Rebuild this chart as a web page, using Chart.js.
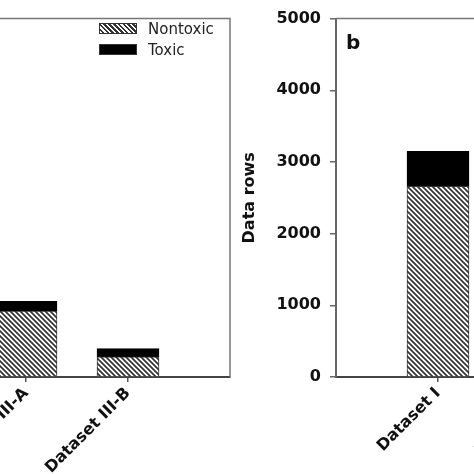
<!DOCTYPE html>
<html>
<head>
<meta charset="utf-8">
<script src="https://cdn.jsdelivr.net/npm/chart.js@4.4.0/dist/chart.umd.min.js"></script>
<style>
  html, body { margin: 0; padding: 0; background: #fff; overflow: hidden; }
  #wrap { position: relative; width: 474px; height: 474px; overflow: hidden; background: #fff; }
  #left { position: absolute; left: -176px; top: 0; }
  #right { position: absolute; left: 236px; top: 0; }
  .legend { position: absolute; left: 99px; top: 18px; font: 15px 'DejaVu Sans'; color: #222; }
  .legend .row { height: 21px; display: flex; align-items: center; }
  .sw { width: 38px; height: 11px; margin-right: 11px; box-sizing: border-box; border: 1px solid #333; }
</style>
</head>
<body>
<div id="wrap">
  <canvas id="left" width="410" height="474"></canvas>
  <canvas id="right" width="410" height="474"></canvas>
  <div class="legend" id="legend"></div>
</div>
<script>
// panel a (only the right end is visible)
const leftLabels = ['', 'Dataset III-A', 'Dataset III-B', ''];
const leftNontoxic = [null, 920, 280, null];
const leftToxic = [null, 135, 115, null];

// panel b
const rightLabels = ['', 'Dataset I', 'Dataset II', ''];
const rightNontoxic = [null, 2660, null, null];
const rightToxic = [null, 490, null, null];

const seriesNames = ['Nontoxic', 'Toxic'];
const yTicks = { min: 0, max: 5000, step: 1000 };

const boldFont = { family: 'DejaVu Sans', size: 16, weight: 'bold' };

function makeHatch() {
  const c = document.createElement('canvas');
  c.width = 5; c.height = 5;
  const g = c.getContext('2d');
  g.fillStyle = '#fff';
  g.fillRect(0, 0, 5, 5);
  g.strokeStyle = '#333';
  g.lineWidth = 1.7;
  g.beginPath();
  g.moveTo(-1, -1); g.lineTo(6, 6);
  g.moveTo(-1, 4); g.lineTo(1, 6);
  g.moveTo(4, -1); g.lineTo(6, 1);
  g.stroke();
  return g.createPattern(c, 'repeat');
}
const hatch = makeHatch();

// top + right frame lines, and the panel letter
const frame = {
  id: 'frame',
  afterDraw(chart, args, opts) {
    const { ctx, chartArea: a } = chart;
    ctx.save();
    ctx.strokeStyle = '#777';
    ctx.lineWidth = 1.5;
    ctx.beginPath();
    ctx.moveTo(a.left, a.top);
    ctx.lineTo(a.right, a.top);
    ctx.lineTo(a.right, a.bottom);
    ctx.stroke();
    if (opts.tag) {
      ctx.fillStyle = '#111';
      ctx.font = 'bold 20px "DejaVu Sans"';
      ctx.fillText(opts.tag, a.left + 10, a.top + 30);
    }
    ctx.restore();
  }
};

function makeChart(id, labels, nontoxic, toxic, tag) {
  const ctx = document.getElementById(id).getContext('2d');
  return new Chart(ctx, {
    type: 'bar',
    data: {
      labels: labels,
      datasets: [
        {
          label: seriesNames[0],
          data: nontoxic,
          backgroundColor: hatch,
          borderColor: '#333',
          borderWidth: 1,
          barThickness: 62,
        },
        {
          label: seriesNames[1],
          data: toxic,
          backgroundColor: '#000',
          borderColor: '#000',
          borderWidth: 1,
          barThickness: 62,
        },
      ],
    },
    options: {
      responsive: false,
      animation: false,
      layout: { padding: { top: 10, right: 4, left: 0, bottom: 0 } },
      plugins: {
        legend: { display: false },
        tooltip: { enabled: false },
        frame: { tag: tag },
      },
      scales: {
        x: {
          stacked: true,
          offset: false,
          ticks: {
            autoSkip: false,
            minRotation: 45,
            maxRotation: 45,
            color: '#111',
            font: boldFont,
            padding: 2,
          },
          grid: {
            offset: false,
            drawOnChartArea: false,
            tickLength: 5,
            lineWidth: 1.5,
            color: (c) => (labels[c.index] ? '#555' : 'rgba(0,0,0,0)'),
          },
          border: { color: '#444', width: 2 },
          afterFit: (s) => {
            s.height = 97;
            s.paddingLeft = 0;
            s.paddingRight = 0;
          },
        },
        y: {
          stacked: true,
          min: yTicks.min,
          max: yTicks.max,
          ticks: {
            stepSize: yTicks.step,
            color: '#111',
            font: boldFont,
            padding: 9,
            callback: (v) => String(v),
          },
          grid: { drawOnChartArea: false, tickLength: 6, color: '#666', lineWidth: 1.5 },
          border: { color: '#666', width: 2 },
          title: { display: true, text: 'Data rows', color: '#111', font: boldFont, padding: { top: 4, bottom: 0 } },
          afterFit: (s) => { s.width = 100; },
        },
      },
    },
    plugins: [frame],
  });
}

makeChart('left', leftLabels, leftNontoxic, leftToxic, null);
makeChart('right', rightLabels, rightNontoxic, rightToxic, 'b');

// legend of panel a
const legend = document.getElementById('legend');
seriesNames.forEach((name, i) => {
  const row = document.createElement('div');
  row.className = 'row';
  const sw = document.createElement('span');
  sw.className = 'sw';
  sw.style.background = i === 0
    ? 'repeating-linear-gradient(45deg, #fff 0 1.6px, #333 1.6px 3.4px)'
    : '#000';
  const txt = document.createElement('span');
  txt.textContent = name;
  row.appendChild(sw);
  row.appendChild(txt);
  legend.appendChild(row);
});
</script>
</body>
</html>
